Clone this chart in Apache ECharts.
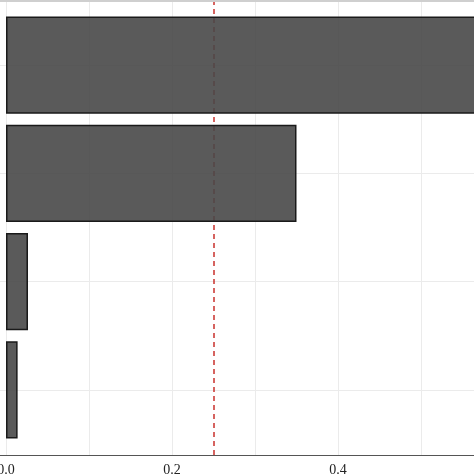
<!DOCTYPE html>
<html>
<head>
<meta charset="utf-8">
<script src="https://cdn.jsdelivr.net/npm/echarts@6/dist/echarts.min.js"></script>
<style>
    html, body { margin: 0; padding: 0; background: #fff; }
    #main { width: 474px; height: 474px; }
</style>
</head>
<body>
<div id="main"></div>
<script>
// 数据
var categories = ['A', 'B', 'C', 'D'];
var values = [0.62, 0.35, 0.0265, 0.014];
var threshold = 0.25;
var tickLabels = ['0.0', '0.2', '0.4', '0.6'];

(function() {
    var myChart = echarts.init(document.getElementById('main'));
    var option = {
        animation: false,
        grid: [{
            // 背景网格（竖线贯穿整个面板）
            left: -77,
            top: 0,
            width: 664,
            height: 455,
            outerBoundsMode: 'none'
        }, {
            left: -77,
            top: 11,
            width: 664,
            height: 433,
            outerBoundsMode: 'none'
        }],
        xAxis: [{
            gridIndex: 0,
            type: 'value',
            min: -0.1,
            max: 0.7,
            interval: 0.1,
            axisLine: { show: false },
            axisTick: { show: false },
            axisLabel: { show: false },
            splitLine: { show: true, lineStyle: { color: '#ebebeb', width: 1 } }
        }, {
            gridIndex: 1,
            type: 'value',
            min: -0.1,
            max: 0.7,
            interval: 0.1,
            offset: 11,
            axisLine: { show: true, lineStyle: { color: '#555', width: 1.2 } },
            axisTick: { show: false },
            axisLabel: {
                color: '#222',
                fontFamily: 'Liberation Serif',
                fontSize: 14,
                margin: 8,
                formatter: function(v) {
                    var s = v.toFixed(1);
                    return tickLabels.indexOf(s) >= 0 ? s : '';
                }
            },
            splitLine: { show: false }
        }],
        yAxis: [{
            gridIndex: 0,
            type: 'value',
            min: 0,
            max: 1,
            show: false,
            splitLine: { show: false }
        }, {
            gridIndex: 1,
            type: 'category',
            data: categories,
            inverse: true,
            axisLine: { show: false },
            axisTick: { show: false },
            axisLabel: { show: false },
            splitLine: { show: false }
        }],
        graphic: [{
            // 顶部灰边
            type: 'rect',
            shape: { x: 0, y: 0, width: 474, height: 2 },
            style: { fill: '#cfcfcf' },
            z: 100
        }],
        series: [{
            // 阈值虚线（贯穿面板，在柱子下面）
            type: 'scatter',
            xAxisIndex: 0,
            yAxisIndex: 0,
            data: [],
            markLine: {
                silent: true,
                symbol: 'none',
                z: 1,
                label: { show: false },
                lineStyle: { color: '#c9302c', type: [5, 4], width: 1.5 },
                data: [{ xAxis: threshold }]
            }
        }, {
            // 类目中线
            type: 'scatter',
            xAxisIndex: 1,
            yAxisIndex: 1,
            data: [],
            markLine: {
                silent: true,
                symbol: 'none',
                z: 0,
                label: { show: false },
                lineStyle: { color: '#ebebeb', type: 'solid', width: 1 },
                data: categories.map(function(c) { return { yAxis: c }; })
            }
        }, {
            type: 'bar',
            xAxisIndex: 1,
            yAxisIndex: 1,
            data: values,
            barCategoryGap: '10%',
            z: 3,
            itemStyle: {
                color: 'rgba(72, 72, 72, 0.9)',
                borderColor: '#1a1a1a',
                borderWidth: 1.5
            }
        }]
    };
    myChart.setOption(option);
})();
</script>
</body>
</html>
